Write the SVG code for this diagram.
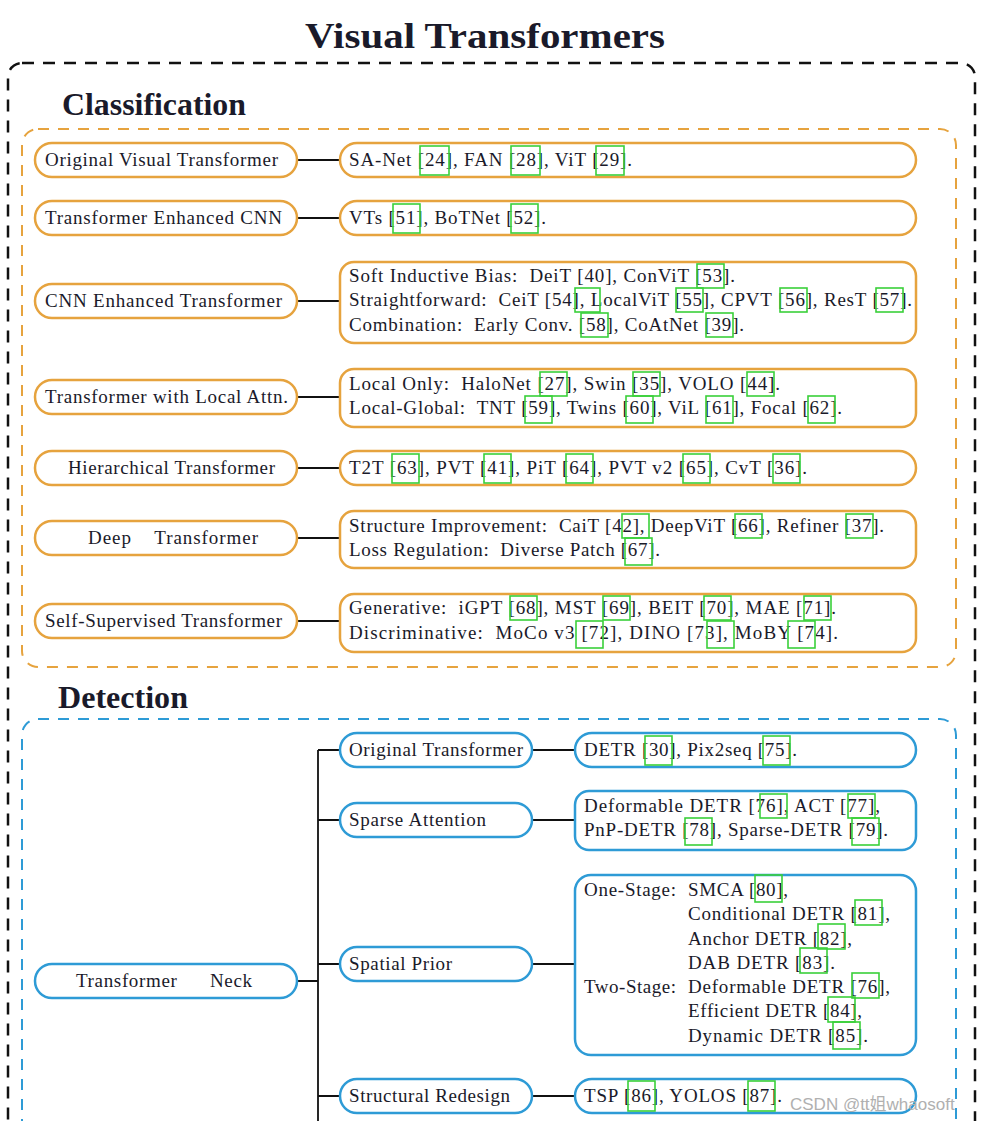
<svg xmlns="http://www.w3.org/2000/svg" width="981" height="1121" viewBox="0 0 981 1121">
<style>
text{font-family:"Liberation Serif","Times New Roman",serif;font-size:19px;fill:#1a1a2a;white-space:pre}
.h{font-weight:bold;font-size:31px}
.o{fill:#fff;stroke:#e6a33e;stroke-width:2.5}
.b{fill:#fff;stroke:#2e9bd6;stroke-width:2.5}
.c{fill:none;stroke:#3ad03a;stroke-width:1.6}
.l{stroke:#111;stroke-width:1.8;fill:none}
</style>
<rect width="981" height="1121" fill="#fff"/>
<text x="305" y="48" class="h" style="font-size:36px" textLength="360" lengthAdjust="spacingAndGlyphs">Visual Transformers</text>
<rect x="8" y="63" width="967" height="1100" rx="14" fill="none" stroke="#111" stroke-width="2.5" stroke-dasharray="12,9"/>
<text x="62" y="115" class="h" textLength="184" lengthAdjust="spacingAndGlyphs">Classification</text>
<rect x="22" y="129" width="934" height="538" rx="16" fill="none" stroke="#e6a33e" stroke-width="2" stroke-dasharray="11,9"/>
<text x="58" y="708" class="h" textLength="130" lengthAdjust="spacingAndGlyphs">Detection</text>
<rect x="22" y="719" width="934" height="440" rx="16" fill="none" stroke="#2e9bd6" stroke-width="2" stroke-dasharray="11,9"/>
<g id="connectors">
<path class="l" d="M297 160H340M297 218H340M297 301H340M297 397H340M297 468H340M297 538H340M297 621H340"/>
<path class="l" d="M297 981H318M318 750V1121M318 750H340M318 820H340M318 964H340M318 1096H340M532 750H575M532 820H575M532 964H575M532 1096H575"/>
</g>
<g id="cls-left">
<rect class="o" x="35" y="143" width="262" height="34" rx="17"/><text x="45" y="166" textLength="233">Original Visual Transformer</text>
<rect class="o" x="35" y="201" width="262" height="34" rx="17"/><text x="45" y="224" textLength="237">Transformer Enhanced CNN</text>
<rect class="o" x="35" y="284" width="262" height="34" rx="17"/><text x="45" y="307" textLength="237">CNN Enhanced Transformer</text>
<rect class="o" x="35" y="380" width="262" height="34" rx="17"/><text x="45" y="403" textLength="243">Transformer with Local Attn.</text>
<rect class="o" x="35" y="451" width="262" height="34" rx="17"/><text x="68" y="474" textLength="207">Hierarchical Transformer</text>
<rect class="o" x="35" y="521" width="262" height="34" rx="17"/><text x="88" y="544" textLength="170">Deep    Transformer</text>
<rect class="o" x="35" y="604" width="262" height="34" rx="17"/><text x="45" y="627" textLength="237">Self-Supervised Transformer</text>
</g>
<g id="cls-right">
<rect class="o" x="340" y="143" width="576" height="34" rx="17"/><text x="349" y="166" textLength="283">SA-Net [24], FAN [28], ViT [29].</text>
<rect class="o" x="340" y="201" width="576" height="34" rx="17"/><text x="349" y="224" textLength="197">VTs [51], BoTNet [52].</text>
<rect class="o" x="340" y="262" width="576" height="81" rx="14"/>
<text x="349" y="282" textLength="386">Soft Inductive Bias:  DeiT [40], ConViT [53].</text>
<text x="349" y="306" textLength="563">Straightforward:  CeiT [54], LocalViT [55], CPVT [56], ResT [57].</text>
<text x="349" y="331" textLength="395">Combination:  Early Conv. [58], CoAtNet [39].</text>
<rect class="o" x="340" y="369" width="576" height="58" rx="14"/>
<text x="349" y="390" textLength="431">Local Only:  HaloNet [27], Swin [35], VOLO [44].</text>
<text x="349" y="414" textLength="493">Local-Global:  TNT [59], Twins [60], ViL [61], Focal [62].</text>
<rect class="o" x="340" y="451" width="576" height="34" rx="17"/><text x="349" y="474" textLength="458">T2T [63], PVT [41], PiT [64], PVT v2 [65], CvT [36].</text>
<rect class="o" x="340" y="511" width="576" height="57" rx="14"/>
<text x="349" y="532" textLength="535">Structure Improvement:  CaiT [42], DeepViT [66], Refiner [37].</text>
<text x="349" y="556" textLength="311">Loss Regulation:  Diverse Patch [67].</text>
<rect class="o" x="340" y="594" width="576" height="58" rx="14"/>
<text x="349" y="614" textLength="487">Generative:  iGPT [68], MST [69], BEIT [70], MAE [71].</text>
<text x="349" y="639" textLength="489">Discriminative:  MoCo v3 [72], DINO [73], MoBY [74].</text>
</g>
<g id="det-left">
<rect class="b" x="35" y="964" width="262" height="34" rx="17"/><text x="76" y="987" textLength="176">Transformer      Neck</text>
</g>
<g id="det-mid">
<rect class="b" x="340" y="733" width="192" height="34" rx="17"/><text x="349" y="756" textLength="174">Original Transformer</text>
<rect class="b" x="340" y="803" width="192" height="34" rx="17"/><text x="349" y="826" textLength="137">Sparse Attention</text>
<rect class="b" x="340" y="947" width="192" height="34" rx="17"/><text x="349" y="970" textLength="103">Spatial Prior</text>
<rect class="b" x="340" y="1079" width="192" height="34" rx="17"/><text x="349" y="1102" textLength="161">Structural Redesign</text>
</g>
<g id="det-right">
<rect class="b" x="575" y="733" width="341" height="34" rx="17"/><text x="584" y="756" textLength="213">DETR [30], Pix2seq [75].</text>
<rect class="b" x="575" y="791" width="341" height="59" rx="14"/>
<text x="584" y="812" textLength="296">Deformable DETR [76], ACT [77],</text>
<text x="584" y="836" textLength="304">PnP-DETR [78], Sparse-DETR [79].</text>
<rect class="b" x="575" y="875" width="341" height="180" rx="16"/>
<text x="584" y="896" textLength="92">One-Stage:</text><text x="688" y="896" textLength="100">SMCA [80],</text>
<text x="688" y="920" textLength="202">Conditional DETR [81],</text>
<text x="688" y="945" textLength="164">Anchor DETR [82],</text>
<text x="688" y="969" textLength="147">DAB DETR [83].</text>
<text x="584" y="993" textLength="92">Two-Stage:</text><text x="688" y="993" textLength="202">Deformable DETR [76],</text>
<text x="688" y="1017" textLength="174">Efficient DETR [84],</text>
<text x="688" y="1042" textLength="180">Dynamic DETR [85].</text>
<rect class="b" x="575" y="1079" width="341" height="34" rx="17"/><text x="584" y="1102" textLength="198">TSP [86], YOLOS [87].</text>
</g>
<g id="citations">
<rect class="c" x="420" y="146" width="29" height="29"/><rect class="c" x="511" y="146" width="29" height="29"/><rect class="c" x="596" y="146" width="28" height="29"/>
<rect class="c" x="393" y="204" width="27" height="29"/><rect class="c" x="511" y="204" width="27" height="29"/>
<rect class="c" x="697" y="264" width="27" height="24"/>
<rect class="c" x="575" y="288" width="25" height="24"/><rect class="c" x="676" y="288" width="27" height="24"/><rect class="c" x="780" y="288" width="27" height="24"/><rect class="c" x="876" y="288" width="27" height="24"/>
<rect class="c" x="581" y="313" width="27" height="24"/><rect class="c" x="706" y="313" width="27" height="24"/>
<rect class="c" x="540" y="372" width="27" height="24"/><rect class="c" x="633" y="372" width="27" height="24"/><rect class="c" x="747" y="372" width="27" height="24"/>
<rect class="c" x="525" y="396" width="27" height="27"/><rect class="c" x="626" y="396" width="27" height="27"/><rect class="c" x="706" y="396" width="27" height="27"/><rect class="c" x="808" y="396" width="27" height="27"/>
<rect class="c" x="392" y="454" width="27" height="29"/><rect class="c" x="484" y="454" width="27" height="29"/><rect class="c" x="566" y="454" width="27" height="29"/><rect class="c" x="683" y="454" width="27" height="29"/><rect class="c" x="773" y="454" width="27" height="29"/>
<rect class="c" x="622" y="514" width="27" height="24"/><rect class="c" x="735" y="514" width="27" height="24"/><rect class="c" x="846" y="514" width="27" height="24"/>
<rect class="c" x="625" y="538" width="27" height="27"/>
<rect class="c" x="510" y="596" width="27" height="24"/><rect class="c" x="603" y="596" width="27" height="24"/><rect class="c" x="704" y="596" width="27" height="24"/><rect class="c" x="804" y="596" width="27" height="24"/>
<rect class="c" x="576" y="621" width="27" height="27"/><rect class="c" x="707" y="621" width="27" height="27"/><rect class="c" x="788" y="621" width="27" height="27"/>
<rect class="c" x="645" y="736" width="27" height="29"/><rect class="c" x="763" y="736" width="27" height="29"/>
<rect class="c" x="760" y="794" width="27" height="24"/><rect class="c" x="848" y="794" width="27" height="24"/>
<rect class="c" x="685" y="818" width="27" height="27"/><rect class="c" x="852" y="818" width="27" height="27"/>
<rect class="c" x="755" y="875" width="27" height="27"/><rect class="c" x="855" y="900" width="27" height="25"/><rect class="c" x="818" y="924" width="27" height="25"/><rect class="c" x="800" y="948" width="27" height="25"/>
<rect class="c" x="852" y="973" width="27" height="25"/><rect class="c" x="828" y="997" width="27" height="25"/><rect class="c" x="833" y="1022" width="27" height="27"/>
<rect class="c" x="628" y="1081" width="27" height="30"/><rect class="c" x="748" y="1081" width="27" height="30"/>
</g>
<text x="790" y="1110" style="font-family:'Liberation Sans','Noto Sans CJK SC',sans-serif;font-size:17px;fill:#b0b0b0">CSDN @tt姐whaosoft</text>
</svg>
